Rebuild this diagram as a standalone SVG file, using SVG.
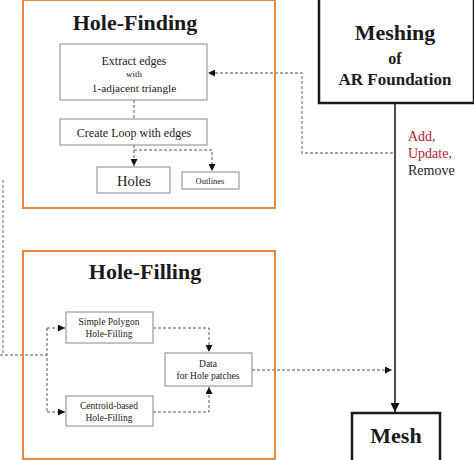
<svg xmlns="http://www.w3.org/2000/svg" width="474" height="460" viewBox="0 0 474 460">
<defs>
<style>
.grp{fill:none;stroke:#e8863f;stroke-width:2}
.box{fill:#fff;stroke:#9a9a9a;stroke-width:1.2}
.hbox{fill:#fff;stroke:#1a1a1a;stroke-width:2.5}
.t{font-family:"Liberation Serif",serif;fill:#1a1a1a;text-anchor:middle}
.title{font-size:22px;font-weight:bold}
.dash{fill:none;stroke:#555;stroke-width:1;stroke-dasharray:3,2}
.gdash{fill:none;stroke:#888;stroke-width:1.3;stroke-dasharray:3,2}
.solid{fill:none;stroke:#111;stroke-width:1.5}
</style>
<marker id="ah" viewBox="0 0 10 10" refX="10" refY="5" markerWidth="7" markerHeight="7" markerUnits="userSpaceOnUse" orient="auto"><path d="M0,0L10,5L0,10z" fill="#111"/></marker>
<marker id="ahb" viewBox="0 0 10 10" refX="10" refY="5" markerWidth="9" markerHeight="9" markerUnits="userSpaceOnUse" orient="auto"><path d="M0,0L10,5L0,10z" fill="#111"/></marker>
</defs>
<rect width="474" height="460" fill="#fff"/>
<g id="connectors">
<path class="gdash" d="M3,180V355"/>
<path class="gdash" d="M393,153H302V73H208" marker-end="url(#ah)"/>
<path class="dash" d="M134,100V119"/>
<path class="dash" d="M134,145V166" marker-end="url(#ah)"/>
<path class="dash" d="M134,150H212V171" marker-end="url(#ah)"/>
<path class="dash" d="M0,355H47"/>
<path class="dash" d="M47,328V412"/>
<path class="dash" d="M47,328H65" marker-end="url(#ah)"/>
<path class="dash" d="M47,412H65" marker-end="url(#ah)"/>
<path class="dash" d="M153,328H209V352" marker-end="url(#ah)"/>
<path class="dash" d="M153,412H209V387" marker-end="url(#ah)"/>
<path class="dash" d="M252,370H392" marker-end="url(#ah)"/>
<path class="solid" d="M395,103V412" marker-end="url(#ahb)"/>
</g>
<g id="hole-finding">
<rect class="grp" x="23" y="0" width="252" height="208"/>
<text class="t title" x="135" y="30">Hole-Finding</text>
</g>
<g id="extract-edges">
<rect class="box" x="60" y="44" width="147" height="56"/>
<text class="t" x="134" y="65" font-size="12">Extract edges</text>
<text class="t" x="134" y="77" font-size="9">with</text>
<text class="t" x="134" y="92" font-size="11.3">1-adjacent triangle</text>
</g>
<g id="create-loop">
<rect class="box" x="60" y="119" width="147" height="26"/>
<text class="t" x="134" y="137" font-size="12">Create Loop with edges</text>
</g>
<g id="holes">
<rect class="box" x="97" y="167" width="73" height="26"/>
<text class="t" x="134" y="186" font-size="14.5">Holes</text>
</g>
<g id="outlines">
<rect class="box" x="182" y="172" width="57" height="17"/>
<text class="t" x="210" y="184" font-size="8.5">Outlines</text>
</g>
<g id="meshing">
<rect class="hbox" x="319" y="-2" width="155" height="105"/>
<text class="t title" x="395" y="40" font-size="23">Meshing</text>
<text class="t" x="395" y="64" font-size="16" font-weight="bold">of</text>
<text class="t" x="395" y="85" font-size="17" font-weight="bold">AR Foundation</text>
</g>
<g id="labels">
<text x="408" y="141" font-family="Liberation Serif,serif" font-size="14" fill="#b5202e">Add,</text>
<text x="408" y="158" font-family="Liberation Serif,serif" font-size="14" fill="#b5202e">Update,</text>
<text x="408" y="175" font-family="Liberation Serif,serif" font-size="14" fill="#1a1a1a">Remove</text>
</g>
<g id="hole-filling">
<rect class="grp" x="23" y="251" width="252" height="208"/>
<text class="t title" x="145" y="279" font-size="23">Hole-Filling</text>
</g>
<g id="simple-polygon">
<rect class="box" x="66" y="312" width="87" height="31"/>
<text class="t" x="109" y="325" font-size="9.5">Simple Polygon</text>
<text class="t" x="109" y="337" font-size="9.5">Hole-Filling</text>
</g>
<g id="centroid">
<rect class="box" x="66" y="396" width="87" height="30"/>
<text class="t" x="109" y="409" font-size="9.5">Centroid-based</text>
<text class="t" x="109" y="421" font-size="9.5">Hole-Filling</text>
</g>
<g id="data">
<rect class="box" x="165" y="353" width="87" height="33"/>
<text class="t" x="208" y="367" font-size="9.5">Data</text>
<text class="t" x="208" y="379" font-size="9.5">for Hole patches</text>
</g>
<g id="mesh">
<rect class="hbox" x="352" y="413" width="88" height="50" stroke-width="3"/>
<text class="t title" x="396" y="443">Mesh</text>
</g>
</svg>
